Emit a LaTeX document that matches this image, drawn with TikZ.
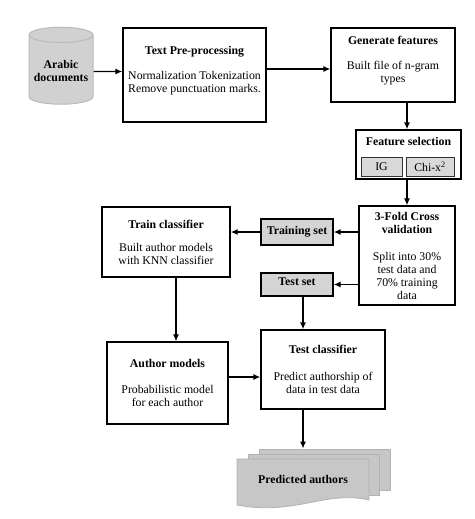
\documentclass[tikz,border=0pt]{standalone}
\usepackage{fontspec}
\setmainfont{Liberation Serif}
\usetikzlibrary{shapes.geometric,arrows.meta}
\begin{document}
\begin{tikzpicture}[x=1pt,y=-1pt,>={Latex[length=7pt,width=6pt]},
  every node/.style={font=\fontsize{11.8}{13}\selectfont},
  block/.style={draw,line width=1.3pt,align=center,inner sep=3pt},
  setbox/.style={draw,line width=1.3pt,fill=black!17,inner sep=2pt,font=\fontsize{11.8}{13}\selectfont\bfseries},
  measure/.style={draw=black!80,line width=0.9pt,fill=black!15,inner sep=1pt},
  page/.style={draw=black!30,line width=0.8pt,fill=black!22},
  flow/.style={->,line width=1.3pt}]
\useasboundingbox (0,0) rectangle (474,519);
\node[cylinder,shape border rotate=90,aspect=0.25,draw=black!27,line width=1pt,fill=black!18,minimum width=64pt,minimum height=77pt,align=center,text height=20pt,font=\fontsize{11.8}{13}\selectfont\bfseries] (doc) at (61,71.5) {Arabic\\documents};
\node[block,minimum width=143pt,minimum height=94pt] (prep) at (194.5,75) {\textbf{Text Pre-processing}\\[12pt]Normalization Tokenization\\Remove punctuation marks.\\[-1pt]~};
\node[block,minimum width=124pt,minimum height=74pt] (feat) at (393,65) {\textbf{Generate features}\\[12pt]Built file of n-gram\\types\\[-2pt]~};
\node[block,text height=12pt,text depth=31pt,minimum width=105pt,font=\fontsize{11.8}{13}\selectfont\bfseries] (sel) at (408.5,154.5) {Feature selection};
\node[measure,minimum width=41pt,minimum height=19pt] (ig) at (381.5,166.5) {IG};
\node[measure,minimum width=48pt,minimum height=19pt] (chi) at (430,166.5) {Chi-x\textsuperscript{2}};
\node[block,minimum width=96pt,minimum height=99pt] (cv) at (407,255.5) {\textbf{3-Fold Cross}\\\textbf{validation}\\[14pt]Split into 30\%\\test data and\\70\% training\\data};
\node[setbox,minimum width=72pt,minimum height=26pt] (train) at (297,232) {Training set};
\node[setbox,minimum width=72pt,minimum height=23pt,text depth=6pt] (test) at (297,284.5) {Test set};
\node[block,minimum width=128pt,minimum height=70pt] (trainer) at (166,242) {\textbf{Train classifier}\\[10pt]Built author models\\with KNN classifier};
\node[block,minimum width=121pt,minimum height=82pt] (models) at (167.5,383) {\textbf{Author models}\\[13pt]Probabilistic model\\for each author};
\node[block,minimum width=124pt,minimum height=79pt] (tester) at (323,369.5) {\textbf{Test classifier}\\[14pt]Predict authorship of\\data in test data};
\node[page,minimum width=131pt,minimum height=41pt] (p3) at (324.5,469.5) {};
\node[page,minimum width=131pt,minimum height=41pt] (p2) at (313.5,474.5) {};
\filldraw[page] (237,459) -- (369,459) -- (369,500) .. controls (325,490) and (295,516) .. (237,505) -- cycle;
\node[font=\fontsize{11.8}{13}\selectfont\bfseries] (pred) at (303,479) {Predicted authors};
\draw[flow] (doc) -- (doc -| prep.west);
\draw[flow] ([yshift=6pt]prep.east) -- ([yshift=6pt]prep.east -| feat.west);
\draw[flow] (feat.south -| 407,0) -- (sel.north -| 407,0);
\draw[flow] (sel.south -| cv.north) -- (cv.north);
\draw[flow] (train -| cv.west) -- (train);
\draw[flow] (train) -- (train -| trainer.east);
\draw[flow] (test -| cv.west) -- (test);
\draw[flow] ([xshift=6pt]test.south) -- ([xshift=6pt]test.south |- tester.north);
\draw[flow] ([xshift=10pt]trainer.south) -- ([xshift=10pt]trainer.south |- models.north);
\draw[flow] ([yshift=6pt]models.east) -- ([yshift=6pt]models.east -| tester.west);
\draw[flow] (tester.south -| pred) -- (pred |- p3.north);
\end{tikzpicture}
\end{document}
